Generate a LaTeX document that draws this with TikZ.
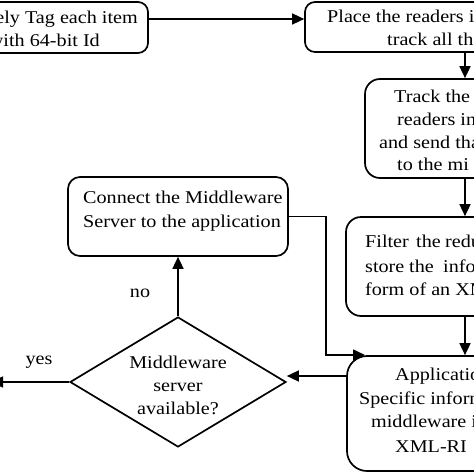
\documentclass[tikz,border=0pt]{standalone}
\usepackage{fontspec}
\setmainfont{Liberation Serif}[FakeStretch=1.12]
\usetikzlibrary{arrows.meta,shapes.geometric}
\begin{document}
\begin{tikzpicture}[x=1pt,y=-1pt,
  box/.style={draw, line width=1.7pt, inner sep=0pt, rectangle},
  dia/.style={draw, line width=1.7pt, inner sep=0pt, diamond},
  txt/.style={inner sep=0pt, anchor=base west, font=\fontsize{18}{23.7}\selectfont},
  txe/.style={inner sep=0pt, anchor=base east, font=\fontsize{18}{23.7}\selectfont},
  txc/.style={inner sep=0pt, anchor=base, font=\fontsize{18}{23.7}\selectfont},
  arr/.style={line width=1.6pt, -{Triangle[length=12pt,width=11pt]}},
  ln/.style={line width=1.6pt}]
\useasboundingbox (0,0) rectangle (474,474);
\clip (0,0) rectangle (474,474);
\fill[white] (0,0) rectangle (474,474);
% columns and free ends
\coordinate (colR) at (465,0);
\coordinate (yT) at (0,19);
\coordinate (yA) at (0,376);
\coordinate (j1) at (326,355);
\coordinate (j2) at (365,355);
\coordinate (yesend) at (-9,382);
% boxes
\node[box, rounded corners=10pt, minimum width=308pt, minimum height=51pt] (B1) at (-6,27.5) {};
\node[box, rounded corners=10pt, minimum width=320pt, minimum height=50pt] (B2) at (465,27) {};
\node[box, rounded corners=15pt, minimum width=200pt, minimum height=99pt] (B3) at (465,128.5) {};
\node[box, rounded corners=15pt, minimum width=238pt, minimum height=99pt] (B4) at (465,266.5) {};
\node[box, rounded corners=20pt, minimum width=236pt, minimum height=115pt] (B5) at (465,413.5) {};
\node[box, rounded corners=12pt, minimum width=220pt, minimum height=79pt] (C) at (178,216.5) {};
\node[dia, minimum width=216pt, minimum height=130pt] (D) at (178,382) {};
% connectors
\draw[arr] (B1.east |- yT) -- (B2.west |- yT);
\draw[arr] (B2.south -| colR) -- (B3.north -| colR);
\draw[arr] (B3.south -| colR) -- (B4.north -| colR);
\draw[arr] (B4.south -| colR) -- (B5.north -| colR);
\draw[arr] (C.east) -| (j1) -- (j2);
\draw[arr] (B5.west |- yA) -- (D.east |- yA);
\draw[arr] (D.north) -- (D.north |- C.south);
\draw[arr] (D.west) -- (yesend);
% texts
\node[txe] (t1a) at (138,23) {uely Tag each item};
\node[txe] (t1b) at (100,46) {with 64-bit Id};
\node[txt] (t2a) at (327,22) {Place the readers in};
\node[txt] (t2b) at (387,45) {track all the};
\node[txt] (t3a) at (394,102) {Track the it};
\node[txt] (t3b) at (397,125) {readers in};
\node[txt] (t3c) at (379,148) {and send tha};
\node[txt] (t3d) at (397,170) {to the mi};
\node[txt] (t4a) at (365,247) {\makebox[51pt][l]{Filter}\makebox[29pt][l]{the}redu};
\node[txt] (t4b) at (365,272) {\makebox[44pt][l]{store}\makebox[34pt][l]{the}info};
\node[txt] (t4c) at (365,295) {form of an XM};
\node[txt] (t5a) at (395,380) {Applicatio};
\node[txt] (t5b) at (359,404) {Specific inform};
\node[txt] (t5c) at (371,427) {middleware i};
\node[txt] (t5d) at (395,452) {XML-RI};
\node[txt] (tca) at (83,203) {Connect the Middleware};
\node[txt] (tcb) at (83,227) {Server to the application};
\node[txc] (tda) at (178,368) {Middleware};
\node[txc] (tdb) at (178,391) {server};
\node[txc] (tdc) at (178,414) {available?};
\node[txc] (tno) at (140,297) {no};
\node[txc] (tyes) at (39,364) {yes};
\end{tikzpicture}
\end{document}
